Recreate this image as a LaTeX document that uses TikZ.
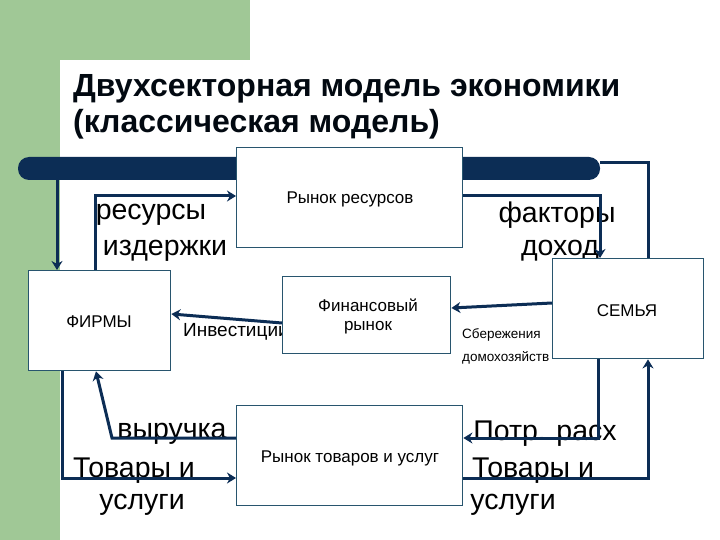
\documentclass[tikz,border=0pt]{standalone}
\usepackage{fontspec}
\setmainfont{Liberation Sans}
\usetikzlibrary{arrows.meta}
\definecolor{grn}{RGB}{160,200,150}
\definecolor{navy}{RGB}{12,45,85}
\definecolor{bord}{RGB}{40,85,110}
\tikzset{
 box/.style={draw=bord,line width=1.4pt,fill=white,minimum width=#1},
 flow/.style={navy,line width=3pt,-{Stealth[length=9pt,width=11pt]}},
 line/.style={navy,line width=3pt},
 big/.style={font=\fontsize{28.5}{28.5}\selectfont,text=black,inner sep=0},
 small/.style={font=\fontsize{13.5}{13.5}\selectfont,inner sep=0},
 btext/.style={font=\fontsize{17}{19}\selectfont,align=center},
}
\begin{document}
\begin{tikzpicture}[x=1pt,y=-1pt]
\useasboundingbox (0,0) rectangle (720,540);
\fill[white] (0,0) rectangle (720,540);
\fill[grn] (0,0) rectangle (250,60);
\fill[grn] (0,0) rectangle (60,540);
\node[anchor=west,font=\fontsize{32}{36}\selectfont\bfseries,text=black!80!navy,align=left,inner sep=0] (title) at (73,107) {Двухсекторная модель экономики\\(классическая модель)};
\fill[navy,rounded corners=11pt] (18,157) rectangle (600,180);
% labels
\node[big] (l1) at (151,215) {ресурсы};
\node[big] (l2) at (165,251) {издержки};
\node[big] (l3) at (557,215) {факторы};
\node[big] (l4) at (560,251) {доход};
\node[font=\fontsize{19}{19}\selectfont,inner sep=0,anchor=west] (l5) at (183,332) {Инвестиции};
\node[small,anchor=west] (l6) at (462,335) {Сбережения};
\node[small,anchor=west] (l7) at (462,358) {домохозяйств};
\node[big] (l8) at (172,434) {выручка};
\node[big] (l9) at (134,471) {Товары и};
\node[big] (l10) at (142,505) {услуги};
\node[big] (l11) at (545,434) {Потр. расх};
\node[big] (l12) at (533,471) {Товары и};
\node[big] (l13) at (513,505) {услуги};
% boxes
\node[box=226pt,minimum height=100pt,anchor=north west] (rr) at (236,147) {};
\node[btext] at (350,199) {Рынок ресурсов};
\node[box=226pt,minimum height=100pt,anchor=north west] (rt) at (236,405) {};
\node[btext] at (350,458) {Рынок товаров и услуг};
\node[box=142pt,minimum height=100pt,anchor=north west] (f) at (28,270) {};
\node[btext] at (99,322) {ФИРМЫ};
\node[box=168pt,minimum height=77pt,anchor=north west] (fin) at (282,276) {};
\node[btext] at (368,316) {Финансовый\\рынок};
\node[box=151pt,minimum height=100pt,anchor=north west] (s) at (552,258) {};
\node[btext] at (627,311) {СЕМЬЯ};
% connectors
\coordinate (b1) at (57,180);
\draw[flow] (b1) -- (f.north -| b1);
\draw[flow] (f.north -| 95,0) |- (rr.west |- 0,196);
\draw[flow] (rr.east |- 0,196) -| (s.north -| 600,0);
\coordinate (b2) at (600,163);
\draw[line] (s.north -| 648,0) |- (b2);
\draw[flow] (s.west |- 0,303) -- (fin.east |- 0,308);
\draw[flow] (fin.west |- 0,323) -- (f.east |- 0,314);
\draw[flow] (s.south -| 598,0) |- (rt.east |- 0,438);
\draw[flow] (rt.east |- 0,478) -| (s.south -| 648,0);
\coordinate (k) at (112,438);
\draw[flow] (rt.west |- 0,438) -- (k) -- (f.south -| 96,0);
\draw[flow] (f.south -| 62,0) |- (rt.west |- 0,478);
\end{tikzpicture}
\end{document}
